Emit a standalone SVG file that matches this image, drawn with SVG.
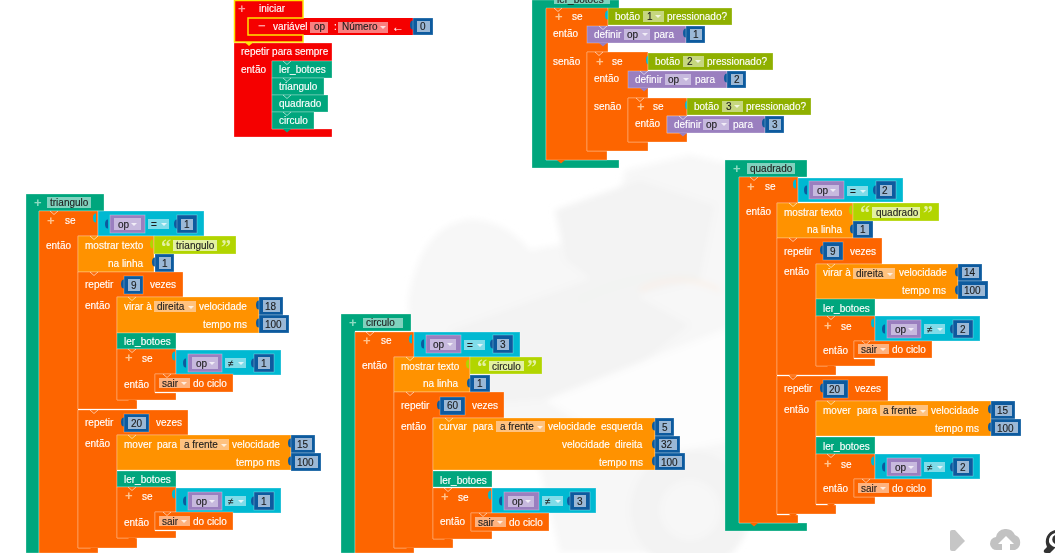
<svg xmlns="http://www.w3.org/2000/svg" xmlns:xlink="http://www.w3.org/1999/xlink" width="1055" height="553" viewBox="0 0 1055 553">
<style>
text{font-family:"Liberation Sans",Arial,sans-serif;font-size:10px;fill:#fff;stroke:#fff;stroke-width:.12}
text.f{fill:#1c1c1c;stroke:#1c1c1c}
text.pl{font-size:13px;font-weight:bold;fill:#ffc48f;stroke:none}
text.pg{font-size:13px;font-weight:bold;fill:#8fdcc4;stroke:none}
text.q{font-family:"Liberation Serif",serif;font-size:20px;font-weight:bold;fill:#e3f1a0;stroke:none}
rect,path.b{stroke:rgba(255,255,255,.35);stroke-width:.8}
.o{fill:#fd6500}.a{fill:#ff9200}.c{fill:#03b9d2}.g{fill:#00a67d}.p{fill:#9a7fbf}.n{fill:#0b5a9e}.l{fill:#8fb000}.y{fill:#b2d500}.r{fill:#f50000}
rect.nf{fill:#9bb8d6;stroke:none}rect.gf{fill:#80d2be;stroke:none}rect.pf{fill:#c7b9de;stroke:none}rect.cf{fill:#80dce9;stroke:none}rect.of{fill:#ffc27f;stroke:none}rect.sf{fill:#feb27f;stroke:none}rect.lf{fill:#c6d77f;stroke:none}rect.yf{fill:#e3f1a0;stroke:none}rect.rf{fill:#fa8080;stroke:none}
.nt{fill:none;stroke:#fff;stroke-opacity:.75;stroke-width:.8}
.da{fill:#fff;fill-opacity:.75}
.bg{fill:#f7f7f7}.bd{fill:#f3f3f3}.bw{fill:#fdfdfd}
</style>
<defs>
<filter id="soft" x="-2%" y="-2%" width="104%" height="104%"><feGaussianBlur stdDeviation=".3"/></filter>
<filter id="haze" x="-10%" y="-10%" width="120%" height="120%"><feGaussianBlur stdDeviation="3"/></filter>
<path id="nt" class="nt" d="M0 0l4 3.500 4-3.500"/>
<path id="nb" d="M0 0h8l-4 3.500z"/>
<path id="da" d="M0 0h6l-3 3z"/>
<path id="tab" d="M0-4.500a3 4.500 0 0 0 0 9z"/>
</defs>
<rect width="1055" height="553" fill="#fff" style="stroke:none"/>
<g id="background" filter="url(#haze)">
<path class="bg" d="M408 300Q420 225 470 219Q505 220 530 250L610 235L625 170L690 155L735 165V553H560L540 470L410 350Z"/>
<path class="bd" d="M555 210L640 180L715 205L700 280L620 300L565 260Z"/>
<path class="bd" d="M450 330L600 275L690 325L600 395L475 405Z"/>
<path class="bw" d="M545 400L735 325V440L640 460Z"/>
<circle class="bd" cx="690" cy="510" r="60"/>
<circle class="bg" cx="690" cy="510" r="30"/>
<path d="M640 290Q680 270 720 290" fill="none" stroke="#fbeee4" stroke-width="3"/>
<path d="M580 300Q640 270 700 278" fill="none" stroke="#f0f3f0" stroke-width="2"/>
</g>

<g id="iniciar" filter="url(#soft)">
<path class="b r" d="M234 43H332V61H272V129H332V137H234Z"/>
<text x="241" y="55">repetir para sempre</text><text x="241" y="73">então</text>
<rect x="234.500" y="0" width="68.500" height="42" class="r" style="stroke:none"/>
<rect x="248" y="18" width="165" height="17" class="r" style="stroke:none"/>
<path d="M234.500 .5H303V18H248V35H303V42H234.500Z" fill="none" stroke="#ffe400" stroke-width="1.500"/>
<use xlink:href="#nb" x="245" y="42.500" fill="#ffe400"/>
<text x="238" y="13" class="pl" style="fill:#ff9a9a;font-size:13px">+</text><text x="259" y="12">iniciar</text>
<text x="258" y="30" class="pl" style="fill:#ff9a9a">−</text><text x="273" y="30">variável</text>
<rect class="rf" x="310" y="22" width="18" height="11"/><text x="314" y="30" class="f">op</text><text x="334" y="30">:</text>
<rect class="rf" x="338" y="22" width="50" height="11"/><text x="342" y="30" class="f">Número</text><use xlink:href="#da" x="380" y="26" class="da"/>
<text x="392" y="31" style="font-size:12px">←</text>
<use xlink:href="#tab" x="413" y="25" fill="#0b5a9e"/><rect class="n" x="413" y="18" width="20" height="17"/><rect class="nf" x="417" y="21" width="13" height="11"/><text x="420" y="30" class="f">0</text>
<rect class="g" x="272" y="61" width="60" height="17"/><text x="279" y="73">ler_botoes</text>
<rect class="g" x="272" y="78" width="52" height="17"/><text x="279" y="90">triangulo</text>
<rect class="g" x="272" y="95" width="56" height="17"/><text x="279" y="107">quadrado</text>
<rect class="g" x="272" y="112" width="42" height="17"/><text x="279" y="124">circulo</text>
<use xlink:href="#nt" x="283" y="61"/><use xlink:href="#nt" x="283" y="78"/><use xlink:href="#nt" x="283" y="95"/><use xlink:href="#nt" x="283" y="112"/>
<use xlink:href="#nb" x="283" y="129" class="g"/>
</g>

<g id="ler_botoes" filter="url(#soft)">
<path class="b g" d="M532 0H619V9H546V160H619V168H532Z"/>
<rect class="gf" x="554" y="0" width="56" height="4"/>
<text x="557" y="3" class="f">ler_botoes</text>
<path class="b o" d="M546 8H608V52H587V151H607V160H546Z"/>
<use xlink:href="#nt" x="554" y="8"/><use xlink:href="#nb" x="557" y="160" class="o"/>
<text x="555" y="21" class="pl">+</text><text x="572" y="20">se</text><text x="553" y="37">então</text><text x="553" y="65">senão</text>
<use xlink:href="#tab" x="608" y="15" fill="#03b9d2"/>
<rect class="l" x="608" y="8" width="124" height="17"/><text x="615" y="20">botão</text><rect class="lf" x="643" y="11" width="21" height="11"/><text x="647" y="20" class="f">1</text><use xlink:href="#da" x="655" y="15" class="da"/><text x="667" y="20">pressionado?</text>
<rect class="p" x="587" y="26" width="99" height="17"/><use xlink:href="#nt" x="599" y="26"/><use xlink:href="#nb" x="599" y="43" class="p"/><text x="594" y="38">definir</text><rect class="pf" x="624" y="29" width="26" height="11"/><text x="627" y="38" class="f">op</text><use xlink:href="#da" x="642" y="33" class="da"/><text x="654" y="38">para</text>
<use xlink:href="#tab" x="686" y="33" fill="#0b5a9e"/><rect class="n" x="686" y="26" width="19" height="17"/><rect class="nf" x="690" y="29" width="12" height="11"/><text x="693" y="38" class="f">1</text>

<path class="b o" d="M587 52H648V98H628V142H648V151H587Z"/>
<use xlink:href="#nt" x="595" y="52"/>
<text x="596" y="66" class="pl">+</text><text x="612" y="65">se</text><text x="594" y="82">então</text><text x="594" y="110">senão</text>
<use xlink:href="#tab" x="649" y="60" fill="#03b9d2"/>
<rect class="l" x="648" y="53" width="125" height="17"/><text x="655" y="65">botão</text><rect class="lf" x="683" y="56" width="21" height="11"/><text x="687" y="65" class="f">2</text><use xlink:href="#da" x="695" y="60" class="da"/><text x="707" y="65">pressionado?</text>
<rect class="p" x="628" y="71" width="99" height="17"/><use xlink:href="#nt" x="640" y="71"/><use xlink:href="#nb" x="640" y="88" class="p"/><text x="635" y="83">definir</text><rect class="pf" x="665" y="74" width="26" height="11"/><text x="668" y="83" class="f">op</text><use xlink:href="#da" x="683" y="78" class="da"/><text x="695" y="83">para</text>
<use xlink:href="#tab" x="727" y="78" fill="#0b5a9e"/><rect class="n" x="727" y="71" width="19" height="17"/><rect class="nf" x="731" y="74" width="12" height="11"/><text x="734" y="83" class="f">2</text>

<path class="b o" d="M628 98H687V116H667V133H687V142H628Z"/>
<use xlink:href="#nt" x="636" y="98"/>
<text x="637" y="111" class="pl">+</text><text x="653" y="110">se</text><text x="635" y="127">então</text>
<use xlink:href="#tab" x="688" y="105" fill="#03b9d2"/>
<rect class="l" x="687" y="98" width="124" height="17"/><text x="694" y="110">botão</text><rect class="lf" x="722" y="101" width="21" height="11"/><text x="726" y="110" class="f">3</text><use xlink:href="#da" x="734" y="105" class="da"/><text x="746" y="110">pressionado?</text>
<rect class="p" x="667" y="116" width="98" height="17"/><use xlink:href="#nt" x="679" y="116"/><use xlink:href="#nb" x="679" y="133" class="p"/><text x="674" y="128">definir</text><rect class="pf" x="703" y="119" width="26" height="11"/><text x="706" y="128" class="f">op</text><use xlink:href="#da" x="721" y="123" class="da"/><text x="733" y="128">para</text>
<use xlink:href="#tab" x="765" y="123" fill="#0b5a9e"/><rect class="n" x="765" y="116" width="19" height="17"/><rect class="nf" x="769" y="119" width="12" height="11"/><text x="772" y="128" class="f">3</text>
</g>

<g id="triangulo" filter="url(#soft)">
<path class="b g" d="M26 194H104V211H39V553H26Z"/><rect class="gf" x="47" y="197" width="44" height="11"/><text x="34" y="207" class="pg">+</text><text x="50" y="206" class="f">triangulo</text>
<path class="b o" d="M39 211H98V236H78V548H98V553H39Z"/><use xlink:href="#nt" x="50" y="211"/><text x="47" y="225" class="pl">+</text><text x="65" y="224">se</text><text x="46" y="249">então</text>
<use xlink:href="#tab" x="96" y="218" fill="#03b9d2"/>
<rect class="c" x="98" y="211" width="106" height="25"/><use xlink:href="#tab" x="108" y="224" fill="#0b5a9e"/>
<rect class="p" x="110" y="215" width="35" height="18"/><rect class="pf" x="114" y="218" width="27" height="12"/><text x="118" y="228" class="f">op</text><use xlink:href="#da" x="131" y="223" class="da"/>
<rect class="cf" x="148" y="219" width="21" height="10"/><text x="151" y="228" class="f">=</text><use xlink:href="#da" x="161" y="223" class="da"/>
<use xlink:href="#tab" x="177" y="224" fill="#0b5a9e"/><rect class="n" x="177" y="215" width="20" height="18"/><rect class="nf" x="181" y="219" width="12" height="11"/><text x="184" y="228" class="f">1</text>
<rect class="a" x="78" y="236" width="76" height="36"/><use xlink:href="#nt" x="90" y="236"/><text x="85" y="249">mostrar texto</text><text x="108" y="267">na linha</text>
<use xlink:href="#tab" x="153" y="244" fill="#b2d500"/>
<rect class="y" x="154" y="236" width="82" height="18"/><text x="161" y="254" class="q">“</text><rect class="yf" x="173" y="240" width="44" height="11"/><text x="176" y="249" class="f">triangulo</text><text x="221" y="254" class="q">”</text>
<use xlink:href="#tab" x="155" y="262" fill="#0b5a9e"/><rect class="n" x="155" y="254" width="19" height="18"/><rect class="nf" x="159" y="257" width="12" height="12"/><text x="162" y="267" class="f">1</text>
<path class="b o" d="M78 272H183V297H117V400H137V409H78Z"/><use xlink:href="#nt" x="90" y="272"/><text x="85" y="288">repetir</text><text x="85" y="309">então</text><text x="150" y="288">vezes</text>
<use xlink:href="#tab" x="124" y="284" fill="#0b5a9e"/><rect class="n" x="124" y="276" width="19" height="18"/><rect class="nf" x="128" y="279" width="12" height="12"/><text x="131" y="289" class="f">9</text>
<rect class="a" x="117" y="297" width="142" height="36"/><use xlink:href="#nt" x="128" y="297"/><text x="124" y="310">virar à</text><rect class="of" x="154" y="301" width="42" height="11"/><text x="157" y="310" class="f">direita</text><use xlink:href="#da" x="188" y="306" class="da"/><text x="199" y="310">velocidade</text><text x="203" y="328">tempo ms</text>
<use xlink:href="#tab" x="259" y="305" fill="#0b5a9e"/><rect class="n" x="259" y="297" width="24" height="18"/><rect class="nf" x="263" y="300" width="17" height="12"/><text x="265" y="310" class="f">18</text>
<use xlink:href="#tab" x="259" y="323" fill="#0b5a9e"/><rect class="n" x="259" y="315" width="30" height="18"/><rect class="nf" x="263" y="318" width="23" height="12"/><text x="265" y="328" class="f">100</text>
<rect class="g" x="117" y="333" width="59" height="16"/><text x="124" y="345">ler_botoes</text>
<g id="tri-check-1" transform="translate(117 349)">
<path class="b o" d="M0 0H59V25H38V44H59V51H0Z"/><use xlink:href="#nt" x="11" y="0"/><use xlink:href="#nb" x="11" y="51" class="o"/><text x="8" y="13" class="pl">+</text><text x="25" y="13">se</text><text x="7" y="39">então</text>
<use xlink:href="#tab" x="58" y="7" fill="#03b9d2"/><rect class="c" x="59" y="1" width="105" height="25"/><use xlink:href="#tab" x="69" y="14" fill="#0b5a9e"/>
<rect class="p" x="71" y="5" width="34" height="18"/><rect class="pf" x="75" y="8" width="26" height="12"/><text x="79" y="18" class="f">op</text><use xlink:href="#da" x="92" y="13" class="da"/>
<rect class="cf" x="108" y="9" width="21" height="10"/><text x="111" y="18" class="f">≠</text><use xlink:href="#da" x="121" y="13" class="da"/>
<use xlink:href="#tab" x="137" y="14" fill="#0b5a9e"/><rect class="n" x="137" y="5" width="20" height="18"/><rect class="nf" x="141" y="8" width="12" height="12"/><text x="144" y="18" class="f">1</text>
<rect class="o" x="38" y="25" width="78" height="18"/><use xlink:href="#nt" x="46" y="25"/><rect class="sf" x="42" y="29" width="31" height="10"/><text x="45" y="38" class="f">sair</text><use xlink:href="#da" x="64" y="33" class="da"/><text x="76" y="38">do ciclo</text>
</g>
<path class="b o" d="M78 410H188V435H117V538H137V548H78Z"/><use xlink:href="#nt" x="90" y="410"/><use xlink:href="#nb" x="90" y="548" class="o"/><text x="85" y="426">repetir</text><text x="85" y="447">então</text><text x="156" y="426">vezes</text>
<use xlink:href="#tab" x="124" y="422" fill="#0b5a9e"/><rect class="n" x="124" y="414" width="25" height="18"/><rect class="nf" x="128" y="417" width="18" height="12"/><text x="131" y="427" class="f">20</text>
<rect class="a" x="117" y="435" width="174" height="35"/><use xlink:href="#nt" x="128" y="435"/><text x="124" y="448">mover</text><text x="157" y="448">para</text><rect class="of" x="180" y="439" width="49" height="11"/><text x="184" y="448" class="f">a frente</text><use xlink:href="#da" x="221" y="444" class="da"/><text x="232" y="448">velocidade</text><text x="236" y="466">tempo ms</text>
<use xlink:href="#tab" x="291" y="443" fill="#0b5a9e"/><rect class="n" x="291" y="435" width="24" height="18"/><rect class="nf" x="295" y="438" width="17" height="12"/><text x="297" y="448" class="f">15</text>
<use xlink:href="#tab" x="291" y="461" fill="#0b5a9e"/><rect class="n" x="291" y="453" width="30" height="18"/><rect class="nf" x="295" y="456" width="23" height="12"/><text x="297" y="466" class="f">100</text>
<rect class="g" x="117" y="471" width="59" height="16"/><text x="124" y="483">ler_botoes</text>
<g id="tri-check-2" transform="translate(117 487)">
<path class="b o" d="M0 0H59V25H38V44H59V51H0Z"/><use xlink:href="#nt" x="11" y="0"/><use xlink:href="#nb" x="11" y="51" class="o"/><text x="8" y="13" class="pl">+</text><text x="25" y="13">se</text><text x="7" y="39">então</text>
<use xlink:href="#tab" x="58" y="7" fill="#03b9d2"/><rect class="c" x="59" y="1" width="105" height="25"/><use xlink:href="#tab" x="69" y="14" fill="#0b5a9e"/>
<rect class="p" x="71" y="5" width="34" height="18"/><rect class="pf" x="75" y="8" width="26" height="12"/><text x="79" y="18" class="f">op</text><use xlink:href="#da" x="92" y="13" class="da"/>
<rect class="cf" x="108" y="9" width="21" height="10"/><text x="111" y="18" class="f">≠</text><use xlink:href="#da" x="121" y="13" class="da"/>
<use xlink:href="#tab" x="137" y="14" fill="#0b5a9e"/><rect class="n" x="137" y="5" width="20" height="18"/><rect class="nf" x="141" y="8" width="12" height="12"/><text x="144" y="18" class="f">1</text>
<rect class="o" x="38" y="25" width="78" height="18"/><use xlink:href="#nt" x="46" y="25"/><rect class="sf" x="42" y="29" width="31" height="10"/><text x="45" y="38" class="f">sair</text><use xlink:href="#da" x="64" y="33" class="da"/><text x="76" y="38">do ciclo</text>
</g>
</g>

<g id="circulo" filter="url(#soft)">
<path class="b g" d="M341 314H411V331H355V553H341Z"/><rect class="gf" x="363" y="318" width="40" height="10"/><text x="349" y="327" class="pg">+</text><text x="366" y="326" class="f">circulo</text>
<path class="b o" d="M355 332H414V357H394V548H414V553H355Z"/><use xlink:href="#nt" x="366" y="332"/><text x="363" y="345" class="pl">+</text><text x="381" y="344">se</text><text x="362" y="369">então</text>
<use xlink:href="#tab" x="412" y="339" fill="#03b9d2"/>
<rect class="c" x="414" y="332" width="106" height="25"/><use xlink:href="#tab" x="424" y="344" fill="#0b5a9e"/>
<rect class="p" x="426" y="335" width="35" height="18"/><rect class="pf" x="430" y="339" width="26" height="11"/><text x="433" y="348" class="f">op</text><use xlink:href="#da" x="447" y="343" class="da"/>
<rect class="cf" x="464" y="340" width="21" height="10"/><text x="467" y="349" class="f">=</text><use xlink:href="#da" x="477" y="344" class="da"/>
<use xlink:href="#tab" x="493" y="344" fill="#0b5a9e"/><rect class="n" x="493" y="335" width="20" height="18"/><rect class="nf" x="497" y="339" width="12" height="11"/><text x="500" y="348" class="f">3</text>
<rect class="a" x="394" y="357" width="76" height="35"/><use xlink:href="#nt" x="406" y="357"/><text x="401" y="370">mostrar texto</text><text x="423" y="387">na linha</text>
<use xlink:href="#tab" x="469" y="364" fill="#b2d500"/>
<rect class="y" x="470" y="357" width="72" height="17"/><text x="477" y="374" class="q">“</text><rect class="yf" x="489" y="361" width="35" height="10"/><text x="492" y="370" class="f">circulo</text><text x="527" y="374" class="q">”</text>
<use xlink:href="#tab" x="470" y="383" fill="#0b5a9e"/><rect class="n" x="470" y="375" width="20" height="17"/><rect class="nf" x="474" y="378" width="12" height="11"/><text x="477" y="387" class="f">1</text>
<path class="b o" d="M394 392H504V418H433V539H453V548H394Z"/><use xlink:href="#nt" x="406" y="392"/><use xlink:href="#nb" x="406" y="548" class="o"/><text x="401" y="409">repetir</text><text x="401" y="430">então</text><text x="472" y="409">vezes</text>
<use xlink:href="#tab" x="440" y="405" fill="#0b5a9e"/><rect class="n" x="440" y="397" width="25" height="18"/><rect class="nf" x="444" y="400" width="17" height="11"/><text x="447" y="409" class="f">60</text>
<rect class="a" x="433" y="418" width="222" height="52"/><use xlink:href="#nt" x="445" y="418"/><text x="439" y="430">curvar</text><text x="473" y="430">para</text><rect class="of" x="496" y="421" width="49" height="11"/><text x="500" y="430" class="f">a frente</text><use xlink:href="#da" x="537" y="426" class="da"/><text x="548" y="430">velocidade</text><text x="601" y="430">esquerda</text><text x="562" y="448">velocidade</text><text x="615" y="448">direita</text><text x="599" y="466">tempo ms</text>
<use xlink:href="#tab" x="655" y="426" fill="#0b5a9e"/><rect class="n" x="655" y="418" width="19" height="18"/><rect class="nf" x="659" y="421" width="12" height="12"/><text x="662" y="431" class="f">5</text>
<use xlink:href="#tab" x="655" y="444" fill="#0b5a9e"/><rect class="n" x="655" y="436" width="25" height="17"/><rect class="nf" x="659" y="439" width="18" height="11"/><text x="661" y="448" class="f">32</text>
<use xlink:href="#tab" x="655" y="461" fill="#0b5a9e"/><rect class="n" x="655" y="453" width="30" height="17"/><rect class="nf" x="659" y="456" width="23" height="11"/><text x="661" y="466" class="f">100</text>
<rect class="g" x="433" y="471" width="59" height="16"/><text x="440" y="484">ler_botoes</text>
<g id="cir-check" transform="translate(433 488)">
<path class="b o" d="M0 0H59V25H38V43H59V51H0Z"/><use xlink:href="#nt" x="11" y="0"/><use xlink:href="#nb" x="11" y="51" class="o"/><text x="8" y="13" class="pl">+</text><text x="25" y="13">se</text><text x="7" y="37">então</text>
<use xlink:href="#tab" x="58" y="7" fill="#03b9d2"/><rect class="c" x="59" y="0" width="104" height="25"/><use xlink:href="#tab" x="69" y="13" fill="#0b5a9e"/>
<rect class="p" x="71" y="4" width="35" height="18"/><rect class="pf" x="75" y="8" width="26" height="11"/><text x="79" y="17" class="f">op</text><use xlink:href="#da" x="92" y="12" class="da"/>
<rect class="cf" x="109" y="8" width="21" height="10"/><text x="112" y="17" class="f">≠</text><use xlink:href="#da" x="122" y="12" class="da"/>
<use xlink:href="#tab" x="137" y="13" fill="#0b5a9e"/><rect class="n" x="137" y="4" width="20" height="18"/><rect class="nf" x="141" y="7" width="12" height="12"/><text x="144" y="17" class="f">3</text>
<rect class="o" x="38" y="25" width="78" height="18"/><use xlink:href="#nt" x="46" y="25"/><rect class="sf" x="42" y="29" width="31" height="10"/><text x="45" y="38" class="f">sair</text><use xlink:href="#da" x="64" y="33" class="da"/><text x="76" y="38">do ciclo</text>
</g>
</g>

<g id="quadrado" filter="url(#soft)">
<path class="b g" d="M725 160H807V177H739V523H807V531H725Z"/><rect class="gf" x="747" y="163" width="48" height="11"/><text x="733" y="173" class="pg">+</text><text x="750" y="172" class="f">quadrado</text>
<path class="b o" d="M739 177H798V203H777V515H798V523H739Z"/><use xlink:href="#nt" x="750" y="177"/><use xlink:href="#nb" x="750" y="523" class="o"/><text x="747" y="191" class="pl">+</text><text x="765" y="190">se</text><text x="746" y="215">então</text>
<use xlink:href="#tab" x="796" y="184" fill="#03b9d2"/>
<rect class="c" x="798" y="178" width="105" height="24"/><use xlink:href="#tab" x="807" y="190" fill="#0b5a9e"/>
<rect class="p" x="809" y="181" width="35" height="18"/><rect class="pf" x="813" y="185" width="26" height="11"/><text x="817" y="194" class="f">op</text><use xlink:href="#da" x="830" y="189" class="da"/>
<rect class="cf" x="847" y="186" width="21" height="10"/><text x="850" y="195" class="f">=</text><use xlink:href="#da" x="860" y="190" class="da"/>
<use xlink:href="#tab" x="876" y="190" fill="#0b5a9e"/><rect class="n" x="876" y="181" width="20" height="18"/><rect class="nf" x="880" y="185" width="12" height="11"/><text x="882" y="194" class="f">2</text>
<rect class="a" x="777" y="203" width="76" height="35"/><use xlink:href="#nt" x="789" y="203"/><text x="784" y="216">mostrar texto</text><text x="807" y="233">na linha</text>
<use xlink:href="#tab" x="852" y="210" fill="#b2d500"/>
<rect class="y" x="853" y="203" width="86" height="18"/><text x="860" y="220" class="q">“</text><rect class="yf" x="872" y="207" width="48" height="11"/><text x="876" y="216" class="f">quadrado</text><text x="923" y="220" class="q">”</text>
<use xlink:href="#tab" x="853" y="229" fill="#0b5a9e"/><rect class="n" x="853" y="221" width="20" height="17"/><rect class="nf" x="857" y="224" width="12" height="11"/><text x="860" y="233" class="f">1</text>
<path class="b o" d="M777 238H882V264H816V366H836V375H777Z"/><use xlink:href="#nt" x="789" y="238"/><use xlink:href="#nb" x="789" y="375" class="o"/><text x="784" y="255">repetir</text><text x="784" y="275">então</text><text x="850" y="255">vezes</text>
<use xlink:href="#tab" x="823" y="250" fill="#0b5a9e"/><rect class="n" x="823" y="242" width="20" height="18"/><rect class="nf" x="827" y="246" width="12" height="11"/><text x="830" y="255" class="f">9</text>
<rect class="a" x="816" y="264" width="142" height="35"/><use xlink:href="#nt" x="827" y="264"/><text x="823" y="276">virar à</text><rect class="of" x="853" y="268" width="42" height="11"/><text x="856" y="277" class="f">direita</text><use xlink:href="#da" x="887" y="273" class="da"/><text x="899" y="276">velocidade</text><text x="902" y="294">tempo ms</text>
<use xlink:href="#tab" x="958" y="272" fill="#0b5a9e"/><rect class="n" x="958" y="264" width="24" height="17"/><rect class="nf" x="962" y="267" width="17" height="11"/><text x="964" y="276" class="f">14</text>
<use xlink:href="#tab" x="958" y="290" fill="#0b5a9e"/><rect class="n" x="958" y="281" width="30" height="18"/><rect class="nf" x="962" y="285" width="23" height="11"/><text x="964" y="294" class="f">100</text>
<rect class="g" x="816" y="299" width="59" height="17"/><text x="823" y="312">ler_botoes</text>
<g id="qua-check-1" transform="translate(816 316)">
<path class="b o" d="M0 0H59V25H38V43H59V50H0Z"/><use xlink:href="#nt" x="11" y="0"/><use xlink:href="#nb" x="11" y="50" class="o"/><text x="8" y="14" class="pl">+</text><text x="25" y="14">se</text><text x="7" y="38">então</text>
<use xlink:href="#tab" x="58" y="7" fill="#03b9d2"/><rect class="c" x="59" y="0" width="105" height="25"/><use xlink:href="#tab" x="69" y="13" fill="#0b5a9e"/>
<rect class="p" x="71" y="4" width="34" height="18"/><rect class="pf" x="75" y="8" width="26" height="11"/><text x="79" y="17" class="f">op</text><use xlink:href="#da" x="92" y="12" class="da"/>
<rect class="cf" x="108" y="8" width="21" height="10"/><text x="111" y="17" class="f">≠</text><use xlink:href="#da" x="121" y="12" class="da"/>
<use xlink:href="#tab" x="137" y="13" fill="#0b5a9e"/><rect class="n" x="137" y="4" width="20" height="18"/><rect class="nf" x="141" y="7" width="12" height="12"/><text x="144" y="17" class="f">2</text>
<rect class="o" x="38" y="25" width="78" height="17"/><use xlink:href="#nt" x="46" y="25"/><rect class="sf" x="42" y="28" width="31" height="10"/><text x="45" y="37" class="f">sair</text><use xlink:href="#da" x="64" y="32" class="da"/><text x="76" y="37">do ciclo</text>
</g>
<path class="b o" d="M777 376H888V401H816V505H836V514H777Z"/><use xlink:href="#nt" x="789" y="376"/><use xlink:href="#nb" x="789" y="514" class="o"/><text x="784" y="392">repetir</text><text x="784" y="413">então</text><text x="855" y="392">vezes</text>
<use xlink:href="#tab" x="823" y="388" fill="#0b5a9e"/><rect class="n" x="823" y="380" width="25" height="18"/><rect class="nf" x="827" y="384" width="17" height="11"/><text x="829" y="393" class="f">20</text>
<rect class="a" x="816" y="401" width="175" height="35"/><use xlink:href="#nt" x="827" y="401"/><text x="823" y="414">mover</text><text x="857" y="414">para</text><rect class="of" x="880" y="405" width="48" height="11"/><text x="883" y="414" class="f">a frente</text><use xlink:href="#da" x="920" y="410" class="da"/><text x="931" y="414">velocidade</text><text x="935" y="432">tempo ms</text>
<use xlink:href="#tab" x="991" y="409" fill="#0b5a9e"/><rect class="n" x="991" y="401" width="24" height="18"/><rect class="nf" x="995" y="405" width="17" height="11"/><text x="997" y="414" class="f">15</text>
<use xlink:href="#tab" x="991" y="427" fill="#0b5a9e"/><rect class="n" x="991" y="419" width="30" height="17"/><rect class="nf" x="995" y="422" width="23" height="11"/><text x="997" y="432" class="f">100</text>
<rect class="g" x="816" y="437" width="59" height="17"/><text x="823" y="450">ler_botoes</text>
<g id="qua-check-2" transform="translate(816 454)">
<path class="b o" d="M0 0H59V25H38V43H59V50H0Z"/><use xlink:href="#nt" x="11" y="0"/><use xlink:href="#nb" x="11" y="50" class="o"/><text x="8" y="14" class="pl">+</text><text x="25" y="14">se</text><text x="7" y="38">então</text>
<use xlink:href="#tab" x="58" y="7" fill="#03b9d2"/><rect class="c" x="59" y="0" width="105" height="25"/><use xlink:href="#tab" x="69" y="13" fill="#0b5a9e"/>
<rect class="p" x="71" y="4" width="34" height="18"/><rect class="pf" x="75" y="8" width="26" height="11"/><text x="79" y="17" class="f">op</text><use xlink:href="#da" x="92" y="12" class="da"/>
<rect class="cf" x="108" y="8" width="21" height="10"/><text x="111" y="17" class="f">≠</text><use xlink:href="#da" x="121" y="12" class="da"/>
<use xlink:href="#tab" x="137" y="13" fill="#0b5a9e"/><rect class="n" x="137" y="4" width="20" height="18"/><rect class="nf" x="141" y="7" width="12" height="12"/><text x="144" y="17" class="f">2</text>
<rect class="o" x="38" y="25" width="78" height="18"/><use xlink:href="#nt" x="46" y="25"/><rect class="sf" x="42" y="29" width="31" height="10"/><text x="45" y="38" class="f">sair</text><use xlink:href="#da" x="64" y="33" class="da"/><text x="76" y="38">do ciclo</text>
</g>
</g>

<g id="connectors"/>

<g id="toolbar" filter="url(#soft)">
<path d="M950 531.500Q950 530 952 530H955L965 541L955 551H952Q950 551 950 549Z" fill="#c6c6c6"/>
<path d="M997 550a6.500 6.500 0 0 1-1-13a10 10 0 0 1 19-2a8 8 0 0 1 0 15H1010V544H1014L1006 536L998 544H1002V550Z" fill="#c2c2c2"/>
<path d="M1055 530a12 12 0 0 0-8 17l-3 3q-1 3 2 3h4l5-5Z" fill="#333"/>
<path d="M1055 533a8 8 0 0 0-6 9a8 8 0 0 0 6 5v-3a5 5 0 0 1 0-9Z" fill="#fff"/>
</g>
</svg>
